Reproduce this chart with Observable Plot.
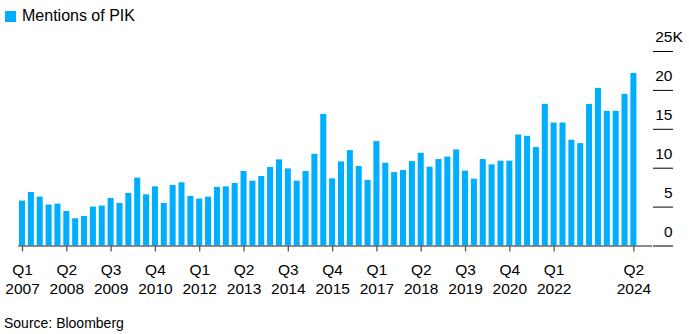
<!DOCTYPE html>
<html><head><meta charset="utf-8">
<script src="https://cdn.jsdelivr.net/npm/d3@7"></script>
<script src="https://cdn.jsdelivr.net/npm/@observablehq/plot@0.6"></script>
<style>
body{margin:0;background:#fff;font-family:"Liberation Sans",Arial,Helvetica,sans-serif;color:#000;}
#wrap{position:relative;width:689px;height:334px;overflow:hidden;background:#fff;}
#legend{position:absolute;left:0;top:0;height:30px;width:300px;z-index:2;}
#legend .sw{position:absolute;left:5px;top:11px;width:11px;height:11px;background:#00aeff;}
#legend .lb{position:absolute;left:22px;top:8px;font-size:16px;line-height:16px;white-space:nowrap;}
#chart{position:absolute;left:0;top:20px;}
#chart svg{overflow:visible;}
#source{position:absolute;left:4px;top:315px;font-size:14px;line-height:16px;white-space:nowrap;}
</style></head>
<body><div id="wrap">
<div id="chart"></div>
<div id="legend"><span class="sw"></span><span class="lb">Mentions of PIK</span></div>
<div id="source">Source: Bloomberg</div>
</div>
<script>
// Mentions of PIK, thousands, quarterly from Q1 2007 to Q2 2024
const startYear = 2007;
const quarterNames = ["Q1", "Q2", "Q3", "Q4"];
const values = [
  5.77, 6.88, 6.28, 5.26,
  5.38, 4.44, 3.50, 3.80,
  5.00, 5.13, 6.11, 5.47,
  6.75, 8.72, 6.58, 7.60,
  5.47, 7.78, 8.12, 6.37,
  6.03, 6.28, 7.52, 7.60,
  8.03, 9.57, 8.33, 8.93,
  10.09, 11.07, 9.91, 8.33,
  9.57, 11.79, 16.92, 8.63,
  10.81, 12.26, 10.21, 8.42,
  13.42, 10.64, 9.44, 9.70,
  10.85, 11.92, 10.13, 11.11,
  11.43, 12.35, 9.62, 8.59,
  11.11, 10.43, 10.90, 10.90,
  14.27, 14.10, 12.65, 18.20,
  15.81, 15.81, 13.59, 13.16,
  18.20, 20.26, 17.31, 17.31,
  19.49, 22.18
];
const tickQuarters = ["Q1 2007", "Q2 2008", "Q3 2009", "Q4 2010", "Q1 2012", "Q2 2013", "Q3 2014",
  "Q4 2015", "Q1 2017", "Q2 2018", "Q3 2019", "Q4 2020", "Q1 2022", "Q2 2024"];
const yTicks = [5, 10, 15, 20, 25];
const yLabels = [0, 5, 10, 15, 20, 25];
const yZero = [0];
const yUnitTick = [25];

const quarters = values.map((v, i) => `${quarterNames[i % 4]} ${startYear + Math.floor(i / 4)}`);
const data = values.map((v, i) => ({quarter: quarters[i], value: v}));

const chart = Plot.plot({
  width: 689,
  height: 280,
  marginLeft: 18,
  marginRight: 37,
  marginTop: 31,
  marginBottom: 54.5,
  style: {fontFamily: '"Liberation Sans", Arial, Helvetica, sans-serif', fontSize: "15.5px", color: "#000", background: "transparent"},
  x: {type: "band", domain: quarters, range: [19, 636.4], paddingInner: 0.32, paddingOuter: 0},
  y: {domain: [0, 25]},
  marks: [
    Plot.barY(data, {x: "quarter", y: "value", fill: "#00aeff"}),
    Plot.ruleY(yZero, {stroke: "#666", strokeWidth: 1.7}),
    Plot.axisX(tickQuarters, {tickSize: 6, tickPadding: 10, tickFormat: d => d.replace(" ", "\n"), lineHeight: 1.2, stroke: "#555", strokeWidth: 1.3, fill: "#000", label: null}),
    // tick lines only
    Plot.axisY(yTicks, {anchor: "right", tickSize: 20, tickFormat: () => "", stroke: "#000", label: null}),
    Plot.axisY(yZero, {anchor: "right", tickSize: 20, tickFormat: () => "", stroke: "#666", strokeWidth: 1.7, label: null}),
    // labels only, raised above their lines
    Plot.axisY(yLabels, {anchor: "right", tickSize: 0, tickPadding: 20, textAnchor: "end", dy: -14, fill: "#000", label: null}),
    Plot.axisY(yUnitTick, {anchor: "right", tickSize: 0, tickPadding: 20, textAnchor: "start", dy: -14, tickFormat: () => "K", fill: "#000", label: null})
  ]
});
document.getElementById("chart").appendChild(chart);
</script>
</body></html>
